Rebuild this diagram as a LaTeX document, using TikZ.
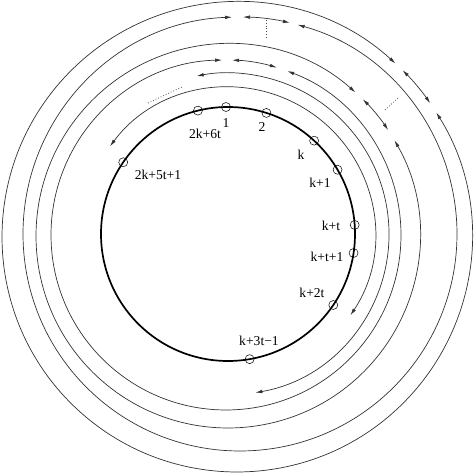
\documentclass[tikz,border=0pt]{standalone}
\usepackage{fontspec}
\setmainfont{Liberation Serif}
\usetikzlibrary{arrows.meta,calc}
\begin{document}
\begin{tikzpicture}[x=1pt,y=1pt,
  loopline/.style={line width=0.7pt, draw=black!80, >={Latex[length=7pt,width=3.6pt]}, <->},
  ring/.style={line width=1.7pt, draw=black},
  pt/.style={circle, draw=black, line width=0.5pt, minimum size=9pt, inner sep=0pt},
  lab/.style={font=\fontsize{13.6}{16}\selectfont, inner sep=0pt},
  dotline/.style={dotted, line width=0.8pt, draw=black!70}]
\useasboundingbox (0,0) rectangle (474,474);
% centres
\coordinate (IC) at (228,240);
\coordinate (O1) at (237,237);
\coordinate (O2) at (240,240);
\coordinate (M1) at (228,238);
\coordinate (M2) at (226,239);
\coordinate (A) at (228,240);
% outer loops with gaps and swap arrows
\draw[loopline] (O1) ++(47.6:235) arc[start angle=47.6, end angle=392, radius=235];
\draw[loopline] (O1) ++(34.7:235) arc[start angle=34.7, end angle=45.2, radius=235];
\draw[loopline] (O2) ++(92.1:217) arc[start angle=92.1, end angle=434.6, radius=217];
\draw[loopline] (O2) ++(76.7:217) arc[start angle=76.7, end angle=89.2, radius=217];
\draw[loopline] (M1) ++(48.4:192) arc[start angle=48.4, end angle=389.9, radius=192];
\draw[loopline] (M1) ++(33.5:192) arc[start angle=33.5, end angle=45.4, radius=192];
\draw[loopline] (M2) ++(91.3:175) arc[start angle=91.3, end angle=429.5, radius=175];
\draw[loopline] (M2) ++(73.1:175) arc[start angle=73.1, end angle=88, radius=175];
\draw[loopline] (A) ++(-80.2:161) arc[start angle=-80.2, end angle=101.2, radius=161];
\draw[loopline] (A) ++(-33.6:147) arc[start angle=-33.6, end angle=143.4, radius=147];
% dotted marks
\coordinate (d1a) at (148,371); \coordinate (d1b) at (182,387);
\coordinate (d2a) at (266,454); \coordinate (d2b) at (266,436);
\coordinate (d3a) at (385,364); \coordinate (d3b) at (398,376);
\draw[dotline] (d1a) -- (d1b);
\draw[dotline] (d2a) -- (d2b);
\draw[dotline] (d3a) -- (d3b);
% inner circle
\draw[ring] (IC) circle[radius=127];
\node[pt] (p1)  at ($(IC)+(90.9:127)$) {};
\node[pt] (p2)  at ($(IC)+(72.4:127)$) {};
\node[pt] (p3)  at ($(IC)+(103.7:127)$) {};
\node[pt] (p4)  at ($(IC)+(145.6:127)$) {};
\node[pt] (p5)  at ($(IC)+(47.3:127)$) {};
\node[pt] (p6)  at ($(IC)+(30.4:127)$) {};
\node[pt] (p7)  at ($(IC)+(4.1:127)$) {};
\node[pt] (p8)  at ($(IC)+(-8.6:127)$) {};
\node[pt] (p9)  at ($(IC)+(-34:127)$) {};
\node[pt] (p10) at ($(IC)+(-80.2:127)$) {};
% labels
\node[lab] (l1)  at (226,351) {1};
\node[lab] (l2)  at (262,347) {2};
\node[lab] (l3)  at (205,340) {2k+6t};
\node[lab] (l4)  at (158,299) {2k+5t+1};
\node[lab] (l5)  at (301,319) {k};
\node[lab] (l6)  at (320,291) {k+1};
\node[lab] (l7)  at (331,248) {k+t};
\node[lab] (l8)  at (327,217) {k+t+1};
\node[lab] (l9)  at (312,181) {k+2t};
\node[lab] (l10) at (259,133) {k+3t−1};
\end{tikzpicture}
\end{document}
